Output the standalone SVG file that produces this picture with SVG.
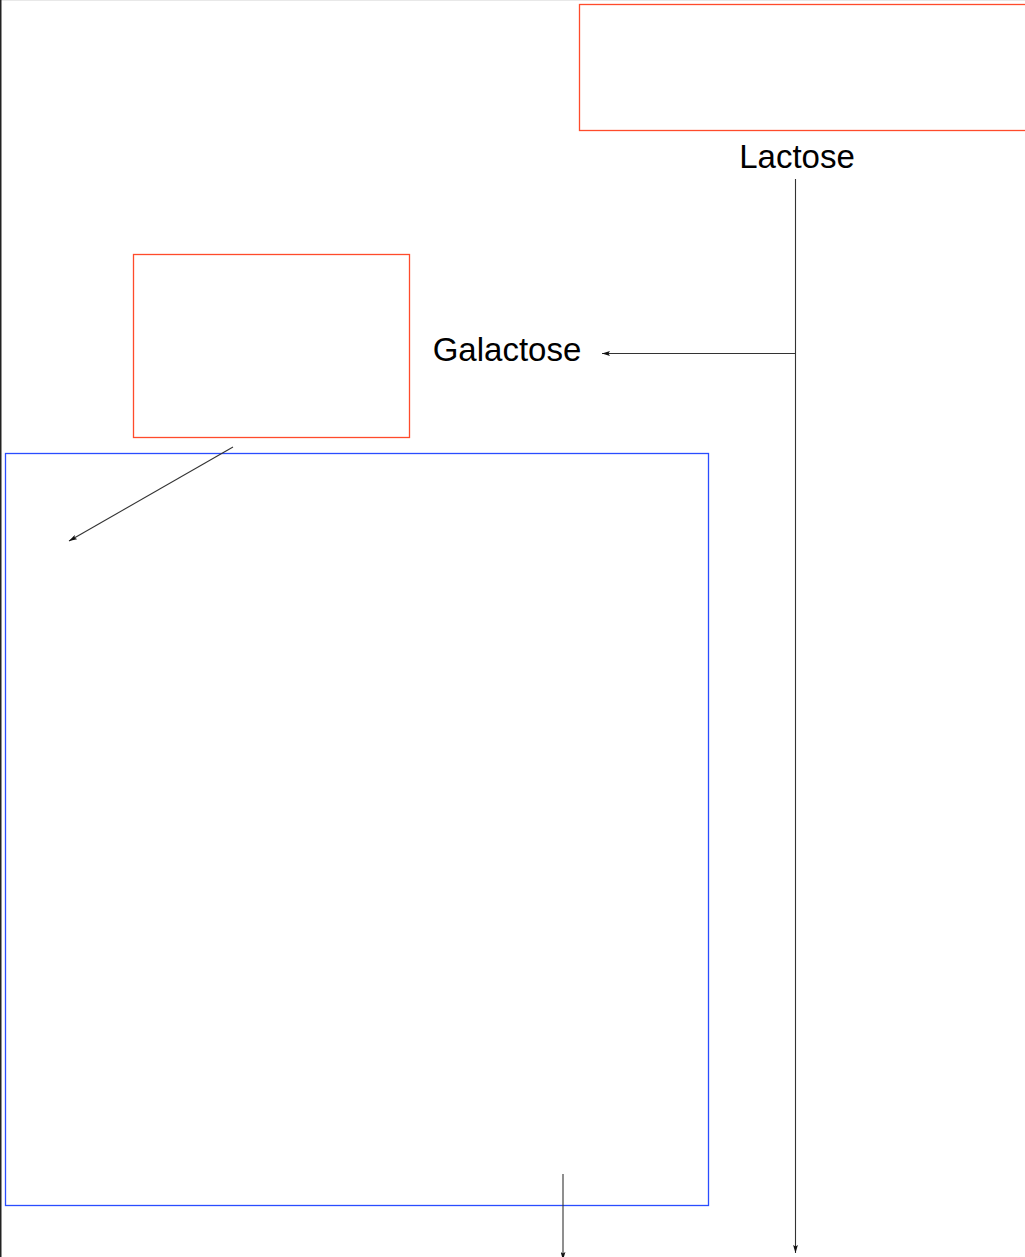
<svg xmlns="http://www.w3.org/2000/svg" width="1025" height="1257" viewBox="0 0 1025 1257">
<style>
.red{fill:none;stroke:#ff4b2b;stroke-width:1.3}
.blue{fill:none;stroke:#2a4dff;stroke-width:1.3}
.conn{fill:none;stroke:#333;stroke-width:1.1}
.lbl{font-family:"Liberation Sans",Arial,sans-serif;font-size:33px;fill:#000}
</style>
<defs>
<marker id="ah" viewBox="0 0 10 6" refX="10" refY="3" markerWidth="8" markerHeight="5" markerUnits="userSpaceOnUse" orient="auto">
<path d="M0,0 L10,3 L0,6 L2,3 Z" fill="#111"/>
</marker>
</defs>
<rect x="0" y="0" width="1025" height="1257" fill="#fff"/>
<line x1="0" y1="0.5" x2="1025" y2="0.5" stroke="#e8e8e8" stroke-width="1"/>
<line x1="0.75" y1="0" x2="0.75" y2="1257" stroke="#222" stroke-width="1.5"/>
<g id="node-top-red">
<rect class="red" x="579.5" y="4.5" width="460" height="126"/>
</g>
<g id="node-lactose">
<text class="lbl" x="797" y="168" text-anchor="middle">Lactose</text>
</g>
<g id="node-galactose">
<text class="lbl" x="507" y="361" text-anchor="middle">Galactose</text>
</g>
<g id="node-left-red">
<rect class="red" x="133.5" y="254.5" width="276" height="183"/>
</g>
<g id="node-blue">
<rect class="blue" x="5.5" y="453.5" width="703" height="752"/>
</g>
<g id="connectors">
<line class="conn" x1="795.5" y1="179" x2="795.5" y2="1253" marker-end="url(#ah)"/>
<line class="conn" x1="795.5" y1="353.5" x2="602" y2="353.5" marker-end="url(#ah)"/>
<line class="conn" x1="233" y1="447" x2="69" y2="541" marker-end="url(#ah)"/>
<line class="conn" x1="563" y1="1174" x2="563" y2="1260" marker-end="url(#ah)"/>
</g>
</svg>
